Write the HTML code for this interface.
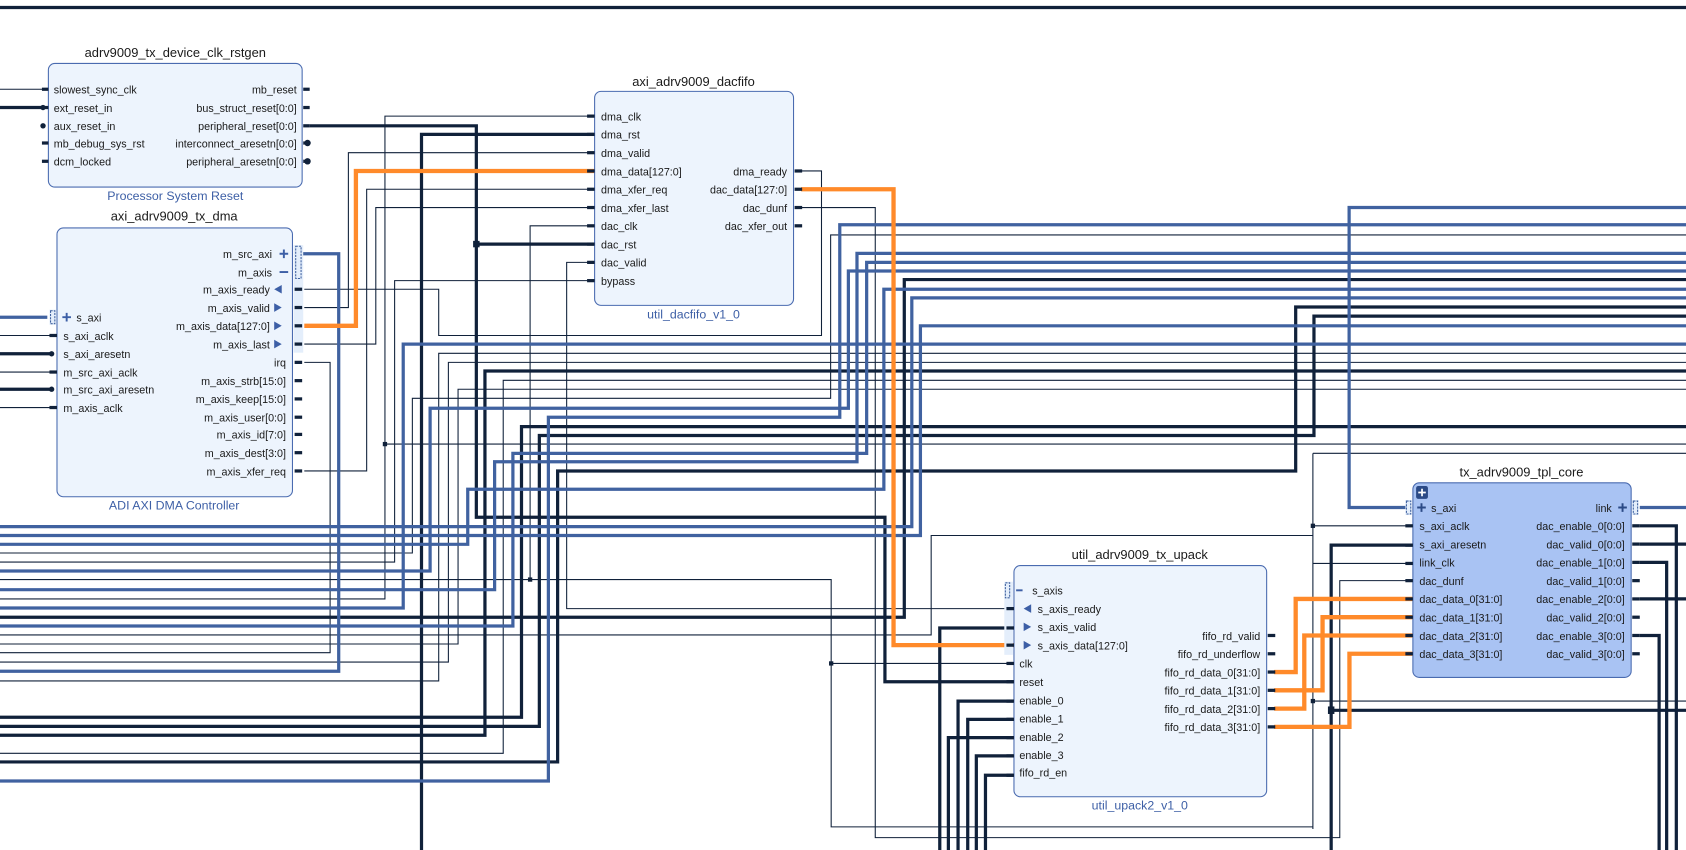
<!DOCTYPE html>
<html><head><meta charset="utf-8"><style>
html,body{margin:0;padding:0;background:#fff;}
svg{display:block;}
text{font-family:"Liberation Sans",sans-serif;fill:#1a1a1a;}
.pl{font-size:10px;}
.pr{font-size:10px;text-anchor:end;}
.tt{font-size:12px;text-anchor:middle;}
.st{font-size:11.5px;text-anchor:middle;fill:#3d5fa6;}
.thin{fill:none;stroke:#10213a;stroke-width:1;}
.thk{fill:none;stroke:#10213a;stroke-width:3;}
.blu{fill:none;stroke:#4062a0;stroke-width:3;}
.org{fill:none;stroke:#ff8a2a;stroke-width:4;}
.box{fill:#edf4fd;stroke:#4a6bb0;stroke-width:1;}
.stub{fill:#10213a;}
.gl{fill:#3d5fa6;}
</style></head><body>
<svg width="1686" height="850" viewBox="0 0 1568 790.5" preserveAspectRatio="none" xmlns="http://www.w3.org/2000/svg">
<rect x="0" y="0" width="1568" height="791" fill="#fff"/>
<line x1="0" y1="7" x2="1568" y2="7" stroke="#10213a" stroke-width="3"/>

<!-- thin wires -->
<g class="thin">
<path d="M0,83H45"/>
<path d="M553,108H358V557H0"/>
<path d="M358,413H1568"/>
<path d="M553,142H324V286H283"/>
<path d="M553,176H341V438H283"/>
<path d="M553,193H349.5V320H283"/>
<path d="M553,210H493V539"/>
<path d="M0,539H773V769H1221"/>
<path d="M773,617H943"/>
<path d="M1221,421.6H1568M1221,421.6V771"/>
<path d="M1221,489H1314M1221,524H1314M1221,652H1568"/>
<path d="M553,244H527V566H943"/>
<path d="M553,261H367V522.7H0"/>
<path d="M745,159H764V312H408V269H283"/>
<path d="M283,337H307V607H0"/>
<path d="M745,193H814V779H1246V540H1314"/>
<path d="M1568,218.5H772.5V370.4H383.5V514.3H0"/>
<path d="M1568,328.6H408V633.3H0"/>
<path d="M1568,337H417V615.7H0"/>
<path d="M1568,353.7H468V700.6H0"/>
<path d="M1568,362H426V598.9H0"/>
<path d="M0,590.5H866V498H1221"/>
<path d="M0,312H53M0,346H53M0,379H53"/>
</g>
<!-- thick wires -->
<g class="thk">
<path d="M0,100H40"/>
<path d="M0,329H48M0,362H48"/>
<path d="M288,117H443V481H823V634H943"/>
<path d="M443,227H553"/>
<path d="M553,125H392V791"/>
<path d="M1568,260H841V574H0"/>
<path d="M1568,345H451V683.8H0"/>
<path d="M1568,396.8H485V667H0"/>
<path d="M1568,294H1222V405H501.6V675.5H0"/>
<path d="M1568,285.5H1205V438H518.6V708.6H0"/>
<path d="M943,584H874V791"/>
<path d="M943,652H891V791M943,669H900V791M943,686H882V791M943,703H908V791M943,721H916.5V791"/>
<path d="M1314,507H1238V791M1238,660.6H1568"/>
<path d="M1525,489H1559V791M1525,506H1568M1525,523H1550V791M1525,557H1568M1525,591H1543V791"/>
</g>
<!-- blue buses -->
<g class="blu">
<path d="M0,295H44"/>
<path d="M281,236H315V624.3H0"/>
<path d="M1568,209H781V388H510V726.3H0"/>
<path d="M1568,235.6H797V429.4H460V548.4H0"/>
<path d="M1568,244H806V421.6H477V582.2H0"/>
<path d="M1568,252H789V379.7H400V531H0"/>
<path d="M1568,269H822V455H435V506.2H0"/>
<path d="M1568,277H848V489.8H0"/>
<path d="M1568,303H856V498H0"/>
<path d="M1568,320H375V565.4H0"/>
<path d="M1312,472H1254.7V193H1568"/>
<path d="M1525,472H1568"/>
</g>
<!-- orange -->
<g class="org">
<path d="M283,303H331V159H553"/>
<path d="M745,176H831V600H943"/>
<path d="M1185,625H1205V557H1314"/>
<path d="M1185,642H1230V574H1314"/>
<path d="M1185,659H1213V591H1314"/>
<path d="M1185,676H1255V608H1314"/>
</g>
<!-- junctions -->
<g class="stub">
<rect x="356" y="411" width="4" height="4"/>
<rect x="440" y="224" width="6" height="6"/>
<rect x="491" y="537" width="4" height="4"/>
<rect x="771" y="615" width="4" height="4"/>
<rect x="1219" y="487" width="4" height="4"/>
<rect x="1219" y="650" width="4" height="4"/>
<rect x="1235" y="657" width="6" height="7"/>
</g>

<!-- rstgen -->
<text class="tt" x="163" y="53">adrv9009_tx_device_clk_rstgen</text>
<rect class="box" x="45" y="59" width="236" height="115" rx="6"/>
<g class="stub">
<rect x="39" y="81.5" width="6" height="3"/><rect x="39" y="98.5" width="6" height="3"/>
<rect x="39" y="131.5" width="6" height="3"/><rect x="39" y="148.5" width="6" height="3"/>
<rect x="282" y="81.5" width="6" height="3"/><rect x="282" y="98.5" width="6" height="3"/>
<rect x="282" y="115.5" width="6" height="3"/><rect x="282" y="131.5" width="6" height="3"/><rect x="282" y="148.5" width="6" height="3"/>
<circle cx="40" cy="100" r="2.5"/><circle cx="40" cy="117" r="2.5"/>
<circle cx="286" cy="133" r="3"/><circle cx="286" cy="150" r="3"/>
</g>
<g class="pl"><text x="50" y="87">slowest_sync_clk</text><text x="50" y="104">ext_reset_in</text><text x="50" y="121">aux_reset_in</text><text x="50" y="137">mb_debug_sys_rst</text><text x="50" y="154">dcm_locked</text></g>
<g class="pr"><text x="276" y="87">mb_reset</text><text x="276" y="104">bus_struct_reset[0:0]</text><text x="276" y="121">peripheral_reset[0:0]</text><text x="276" y="137">interconnect_aresetn[0:0]</text><text x="276" y="154">peripheral_aresetn[0:0]</text></g>
<text class="st" x="163" y="186">Processor System Reset</text>

<!-- DMA -->
<text class="tt" x="162" y="205">axi_adrv9009_tx_dma</text>
<rect class="box" x="53" y="212" width="219" height="250" rx="6"/>
<rect x="273" y="228" width="9" height="100" fill="#e4eefb"/>
<rect x="46" y="288" width="6" height="14" fill="#e4eefb"/>
<g class="stub">
<rect x="274" y="267.5" width="7" height="3"/><rect x="274" y="284.5" width="7" height="3"/><rect x="274" y="301.5" width="7" height="3"/><rect x="274" y="318.5" width="7" height="3"/>
<rect x="274" y="335.5" width="7" height="3"/><rect x="274" y="352.5" width="7" height="3"/><rect x="274" y="369.5" width="7" height="3"/><rect x="274" y="386.5" width="7" height="3"/><rect x="274" y="402.5" width="7" height="3"/><rect x="274" y="419.5" width="7" height="3"/><rect x="274" y="436.5" width="7" height="3"/>
<rect x="46" y="310.5" width="7" height="3"/><rect x="46" y="344.5" width="7" height="3"/><rect x="46" y="377.5" width="7" height="3"/>
<circle cx="48" cy="329" r="2.5"/><circle cx="48" cy="362" r="2.5"/>
</g>
<g fill="none" stroke="#4062a0" stroke-width="1" stroke-dasharray="2,1"><rect x="275" y="229" width="5" height="30"/><rect x="47" y="289" width="4" height="12"/></g>
<g class="gl">
<path d="M260,236h8M264,232v8" stroke="#3d5fa6" stroke-width="1.8"/>
<path d="M260,253h8" stroke="#3d5fa6" stroke-width="1.8"/>
<path d="M262,265v8l-7,-4z"/><path d="M255,282v8l7,-4z"/><path d="M255,299v8l7,-4z"/><path d="M255,316v8l7,-4z"/>
<path d="M58,295h8M62,291v8" stroke="#3d5fa6" stroke-width="1.8"/>
</g>
<g class="pr"><text x="253" y="240">m_src_axi</text><text x="253" y="257">m_axis</text><text x="251" y="273">m_axis_ready</text><text x="251" y="290">m_axis_valid</text><text x="251" y="307">m_axis_data[127:0]</text><text x="251" y="324">m_axis_last</text><text x="266" y="341">irq</text><text x="266" y="358">m_axis_strb[15:0]</text><text x="266" y="375">m_axis_keep[15:0]</text><text x="266" y="392">m_axis_user[0:0]</text><text x="266" y="408">m_axis_id[7:0]</text><text x="266" y="425">m_axis_dest[3:0]</text><text x="266" y="442">m_axis_xfer_req</text></g>
<g class="pl"><text x="71" y="299">s_axi</text><text x="59" y="316">s_axi_aclk</text><text x="59" y="333">s_axi_aresetn</text><text x="59" y="350">m_src_axi_aclk</text><text x="59" y="366">m_src_axi_aresetn</text><text x="59" y="383">m_axis_aclk</text></g>
<text class="st" x="162" y="474">ADI AXI DMA Controller</text>

<!-- dacfifo -->
<text class="tt" x="645" y="80">axi_adrv9009_dacfifo</text>
<rect class="box" x="553" y="85" width="185" height="199" rx="6"/>
<g class="stub">
<rect x="546" y="106.5" width="7" height="3"/><rect x="546" y="123.5" width="7" height="3"/><rect x="546" y="140.5" width="7" height="3"/><rect x="546" y="157.5" width="7" height="3"/><rect x="546" y="174.5" width="7" height="3"/><rect x="546" y="191.5" width="7" height="3"/><rect x="546" y="208.5" width="7" height="3"/><rect x="546" y="225.5" width="7" height="3"/><rect x="546" y="242.5" width="7" height="3"/><rect x="546" y="259.5" width="7" height="3"/>
<rect x="739" y="157.5" width="7" height="3"/><rect x="739" y="174.5" width="7" height="3"/><rect x="739" y="191.5" width="7" height="3"/><rect x="739" y="208.5" width="7" height="3"/>
</g>
<g class="pl"><text x="559" y="112">dma_clk</text><text x="559" y="129">dma_rst</text><text x="559" y="146">dma_valid</text><text x="559" y="163">dma_data[127:0]</text><text x="559" y="180">dma_xfer_req</text><text x="559" y="197">dma_xfer_last</text><text x="559" y="214">dac_clk</text><text x="559" y="231">dac_rst</text><text x="559" y="248">dac_valid</text><text x="559" y="265">bypass</text></g>
<g class="pr"><text x="732" y="163">dma_ready</text><text x="732" y="180">dac_data[127:0]</text><text x="732" y="197">dac_dunf</text><text x="732" y="214">dac_xfer_out</text></g>
<text class="st" x="645" y="296">util_dacfifo_v1_0</text>

<!-- upack -->
<text class="tt" x="1060" y="520">util_adrv9009_tx_upack</text>
<rect class="box" x="943" y="526" width="235" height="215" rx="6"/>
<rect x="934" y="541" width="8" height="68" fill="#e4eefb"/>
<g fill="none" stroke="#4062a0" stroke-width="1" stroke-dasharray="2,1"><rect x="935" y="542" width="4" height="14"/></g>
<g class="stub">
<rect x="936" y="564.5" width="7" height="3"/><rect x="936" y="582.5" width="7" height="3"/><rect x="936" y="598.5" width="7" height="3"/>
<rect x="936" y="615.5" width="7" height="3"/><rect x="936" y="632.5" width="7" height="3"/><rect x="936" y="650.5" width="7" height="3"/><rect x="936" y="667.5" width="7" height="3"/><rect x="936" y="684.5" width="7" height="3"/><rect x="936" y="701.5" width="7" height="3"/><rect x="936" y="719.5" width="7" height="3"/>
<rect x="1179" y="589.5" width="7" height="3"/><rect x="1179" y="606.5" width="7" height="3"/><rect x="1179" y="623.5" width="7" height="3"/><rect x="1179" y="640.5" width="7" height="3"/><rect x="1179" y="657.5" width="7" height="3"/><rect x="1179" y="674.5" width="7" height="3"/>
</g>
<g class="gl">
<path d="M945,549h6" stroke="#3d5fa6" stroke-width="1.8"/>
<path d="M959,562v8l-7,-4z"/><path d="M952,579v8l7,-4z"/><path d="M952,596v8l7,-4z"/>
</g>
<g class="pl"><text x="960" y="553">s_axis</text><text x="965" y="570">s_axis_ready</text><text x="965" y="587">s_axis_valid</text><text x="965" y="604">s_axis_data[127:0]</text><text x="948" y="621">clk</text><text x="948" y="638">reset</text><text x="948" y="655">enable_0</text><text x="948" y="672">enable_1</text><text x="948" y="689">enable_2</text><text x="948" y="706">enable_3</text><text x="948" y="722">fifo_rd_en</text></g>
<g class="pr"><text x="1172" y="595">fifo_rd_valid</text><text x="1172" y="612">fifo_rd_underflow</text><text x="1172" y="629">fifo_rd_data_0[31:0]</text><text x="1172" y="646">fifo_rd_data_1[31:0]</text><text x="1172" y="663">fifo_rd_data_2[31:0]</text><text x="1172" y="680">fifo_rd_data_3[31:0]</text></g>
<text class="st" x="1060" y="753">util_upack2_v1_0</text>

<!-- tpl core -->
<text class="tt" x="1415" y="443">tx_adrv9009_tpl_core</text>
<rect x="1314" y="449" width="203" height="181" rx="6" fill="#a9c3f3" stroke="#4a6bb0" stroke-width="1"/>
<rect x="1317" y="452" width="11" height="12" rx="2" fill="#2b4a86"/>
<path d="M1322.5,454.5v7M1319,458h7" stroke="#fff" stroke-width="1.6"/>
<g fill="#e4eefb"><rect x="1307" y="465" width="6" height="14"/><rect x="1518" y="465" width="6" height="14"/></g>
<g fill="none" stroke="#4062a0" stroke-width="1" stroke-dasharray="2,1"><rect x="1308" y="466" width="4" height="12"/><rect x="1519" y="466" width="4" height="12"/></g>
<g class="stub">
<rect x="1307" y="487.5" width="7" height="3"/><rect x="1307" y="505.5" width="7" height="3"/><rect x="1307" y="522.5" width="7" height="3"/><rect x="1307" y="538.5" width="7" height="3"/><rect x="1307" y="555.5" width="7" height="3"/><rect x="1307" y="572.5" width="7" height="3"/><rect x="1307" y="589.5" width="7" height="3"/><rect x="1307" y="606.5" width="7" height="3"/>
<rect x="1518" y="487.5" width="7" height="3"/><rect x="1518" y="504.5" width="7" height="3"/><rect x="1518" y="521.5" width="7" height="3"/><rect x="1518" y="538.5" width="7" height="3"/><rect x="1518" y="555.5" width="7" height="3"/><rect x="1518" y="572.5" width="7" height="3"/><rect x="1518" y="589.5" width="7" height="3"/><rect x="1518" y="606.5" width="7" height="3"/>
</g>
<path d="M1318,472h8M1322,468v8M1505,472h8M1509,468v8" stroke="#2b4a86" stroke-width="1.8"/>
<g class="pl"><text x="1331" y="476">s_axi</text><text x="1320" y="493">s_axi_aclk</text><text x="1320" y="510">s_axi_aresetn</text><text x="1320" y="527">link_clk</text><text x="1320" y="544">dac_dunf</text><text x="1320" y="561">dac_data_0[31:0]</text><text x="1320" y="578">dac_data_1[31:0]</text><text x="1320" y="595">dac_data_2[31:0]</text><text x="1320" y="612">dac_data_3[31:0]</text></g>
<g class="pr"><text x="1499" y="476">link</text><text x="1511" y="493">dac_enable_0[0:0]</text><text x="1511" y="510">dac_valid_0[0:0]</text><text x="1511" y="527">dac_enable_1[0:0]</text><text x="1511" y="544">dac_valid_1[0:0]</text><text x="1511" y="561">dac_enable_2[0:0]</text><text x="1511" y="578">dac_valid_2[0:0]</text><text x="1511" y="595">dac_enable_3[0:0]</text><text x="1511" y="612">dac_valid_3[0:0]</text></g>
</svg>
</body></html>
